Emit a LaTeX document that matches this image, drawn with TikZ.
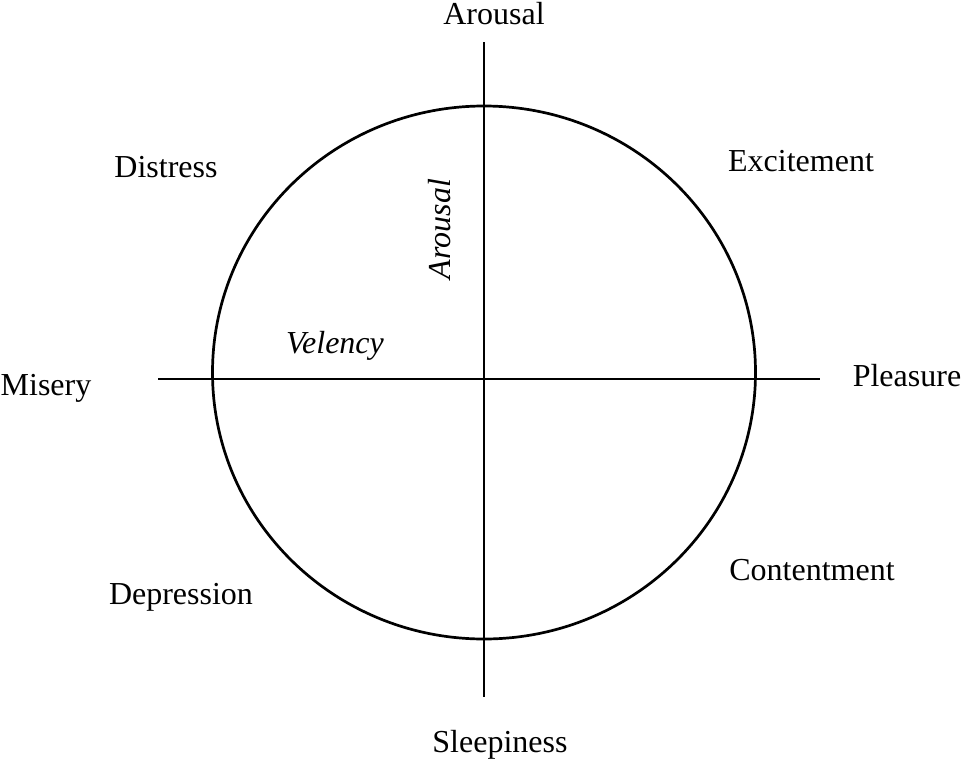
\documentclass[tikz,border=0pt]{standalone}
\usepackage{fontspec}
\setmainfont{Liberation Serif}
\begin{document}
\begin{tikzpicture}[x=1pt,y=-1pt,
  lbl/.style={font=\fontsize{32}{38}\selectfont, inner sep=0pt, anchor=base},
  ilbl/.style={lbl, font=\fontsize{32}{38}\selectfont\itshape},
  axis/.style={line width=1.3pt},
  ring/.style={line width=2.7pt}]
\useasboundingbox (0,0) rectangle (962,761);
\coordinate (c) at (484,372.5);
\coordinate (top) at (484,42);
\coordinate (bot) at (484,697);
\coordinate (lft) at (158,379);
\coordinate (rgt) at (820,379);
\draw[ring] (c) ellipse [x radius=271.5, y radius=266.5];
\draw[axis] (top) -- (bot);
\draw[axis] (lft) -- (rgt);
\node[lbl] (arousal) at (494,24) {Arousal};
\node[lbl] (sleep) at (500,752) {Sleepiness};
\node[lbl] (misery) at (46,395) {Misery};
\node[lbl] (pleasure) at (907,386) {Pleasure};
\node[lbl] (distress) at (166,177) {Distress};
\node[lbl] (excite) at (801,171) {Excitement};
\node[lbl] (depress) at (181,604) {Depression};
\node[lbl] (content) at (812,580) {Contentment};
\node[ilbl] (velency) at (335,353) {Velency};
\node[ilbl, rotate=90] (arousal2) at (450,229) {Arousal};
\end{tikzpicture}
\end{document}
